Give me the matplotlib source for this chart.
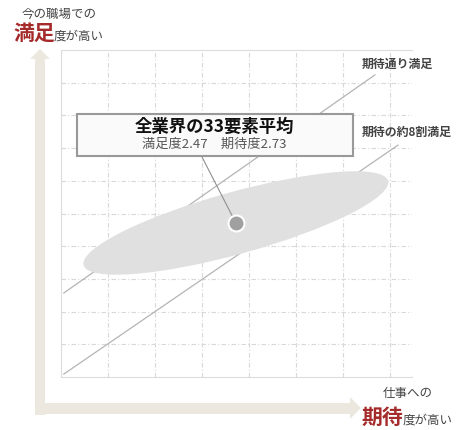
import matplotlib.pyplot as plt
from matplotlib.patches import Ellipse, Rectangle, Polygon
from matplotlib.transforms import Affine2D

plt.rcParams['font.family'] = ['Noto Sans CJK JP', 'DejaVu Sans']

# chart values, in grid cells (x: expectation, y: satisfaction)
line_labels = ['期待通り満足', '期待の約8割満足']
line_x = [[0.06, 6.68], [0.06, 7.17]]
line_y = [[2.57, 9.24], [0.09, 7.09]]
label_pos = [(6.40, 9.57), (6.40, 7.49)]
mean_x = 3.72
mean_y = 4.71
box_title = '全業界の33要素平均'
box_sub = '満足度2.47\u3000期待度2.73'

W, H = 474, 430
CW, CH = 47, 32.7  # pixel size of one grid cell
red = '#a52a2a'
beige = '#ece8df'

fig = plt.figure(figsize=(W / 100, H / 100), dpi=100)

# background layer in pixel units for the big arrows and axis titles
bg = fig.add_axes([0, 0, 1, 1])
bg.set_xlim(0, W)
bg.set_ylim(H, 0)
bg.axis('off')
bg.add_patch(Rectangle((35, 58), 10, 357, color=beige, lw=0))
bg.add_patch(Polygon([(30, 59), (50, 59), (40, 49)], color=beige, lw=0))
bg.add_patch(Rectangle((35, 403), 316, 11, color=beige, lw=0))
bg.add_patch(Polygon([(350, 397), (350, 419), (361, 408)], color=beige, lw=0))

bg.text(22, 14, '今の職場での', fontsize=9, color='#444444', va='center')
bg.text(13, 40, '満足', fontsize=15, fontweight='bold', color=red, va='baseline')
bg.text(54, 40, '度が高い', fontsize=9, color='#444444', va='baseline')
bg.text(383, 394, '仕事への', fontsize=9, color='#444444', va='center')
bg.text(362, 424, '期待', fontsize=15, fontweight='bold', color=red, va='baseline')
bg.text(403, 424, '度が高い', fontsize=9, color='#444444', va='baseline')

# main plot area
ax = fig.add_axes([61 / W, (H - 377) / H, 351 / W, 327 / H])
ax.set_xlim(0, 351 / CW)
ax.set_ylim(0, 327 / CH)
ax.set_facecolor('none')
ax.set_xticks(range(1, 8))
ax.set_yticks(range(1, 10))
ax.tick_params(length=0, labelbottom=False, labelleft=False)
ax.grid(True, color='#d8d8d8', lw=0.8, linestyle=(0, (4, 2, 1, 2)))
for s in ['left', 'top', 'bottom']:
    ax.spines[s].set_color('#dcdcdc')
ax.spines['right'].set_visible(False)

for lx, ly, lab, pos in zip(line_x, line_y, line_labels, label_pos):
    ax.plot(lx, ly, color='#b4b4b4', lw=0.9, zorder=2)
    ax.text(pos[0], pos[1], lab, fontsize=8.6, fontweight='bold', color='#444444',
            va='center', ha='left', clip_on=False)

# spread of the 33 items, drawn in pixel space then mapped to cells
to_cells = Affine2D().scale(1 / CW, 1 / CH) + ax.transData
ax.add_patch(Ellipse((mean_x * CW, mean_y * CH), width=316, height=62, angle=15.5,
                     color='#e0e0e0', lw=0, zorder=3, transform=to_cells))

ax.plot([3.0, mean_x], [6.73, mean_y], color='#909090', lw=0.8, zorder=4)
ax.plot(mean_x, mean_y, 'o', ms=11.5, color='#a0a0a0', mec='white', mew=1.5, zorder=5)

ax.add_patch(Rectangle((0.34, 6.76), 5.87, 1.28, facecolor='#fafafa',
                       edgecolor='#999999', lw=1.5, zorder=6))
ax.text(3.27, 7.66, box_title, fontsize=12.5, fontweight='bold', color='#111111',
        ha='center', va='center', zorder=7)
ax.text(3.27, 7.13, box_sub, fontsize=9.5, color='#555555',
        ha='center', va='center', zorder=7)

fig.savefig('out.png', dpi=100)
